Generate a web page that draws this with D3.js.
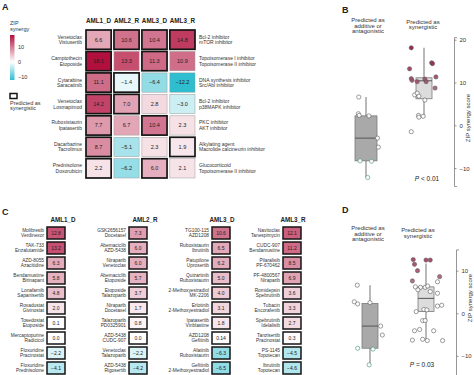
<!DOCTYPE html>
<html>
<head>
<meta charset="utf-8">
<script src="https://cdn.jsdelivr.net/npm/d3@7"></script>
<style>
  body { margin: 0; background: #fff; }
  svg { display: block; font-family: "Liberation Sans", Arial, sans-serif; }
</style>
</head>
<body>
<div id="chart"></div>
<script>
// ---- Panel A data ----
const colsA = ["AML1_D", "AML2_R", "AML3_D", "AML3_R"];
const rowsA = [
    ["Venetoclax", "Vistusertib"],
    ["Camptothecin", "Etoposide"],
    ["Cytarabine", "Saracatinib"],
    ["Venetoclax", "Losmapimod"],
    ["Ruboxistaurin", "Ipatasertib"],
    ["Dacarbazine", "Tacrolimus"],
    ["Prednisolone", "Doxorubicin"]
];
const mechA = [
    ["Bcl-2 inhibitor", "mTOR inhibitor"],
    ["Topoisomerase I inhibitor", "Topoisomerase II inhibitor"],
    ["DNA synthesis inhibitor", "Src/Abl inhibitor"],
    ["Bcl-2 inhibitor", "p38MAPK inhibitor"],
    ["PKC inhibitor", "AKT inhibitor"],
    ["Alkylating agent", "Macrolide calcineurin inhibitor"],
    ["Glucocorticoid", "Topoisomerase II inhibitor"]
];
const valuesA = [
    [6.6, 10.6, 10.4, 14.8],
    [18.1, 13.3, 11.3, 10.9],
    [11.1, -1.4, -6.4, -12.2],
    [14.2, 7.0, 2.8, -3.0],
    [7.7, 6.7, 10.4, 2.3],
    [8.7, -5.1, 2.3, 1.9],
    [2.2, -6.2, 6.0, 2.1]
];
const synA = [
    [1, 1, 1, 1],
    [1, 0, 1, 0],
    [1, 1, 0, 0],
    [1, 1, 0, 0],
    [1, 0, 1, 0],
    [1, 0, 0, 1],
    [1, 0, 1, 0]
];
const colorTicks = [10, 0, -10];

// ---- Panel C data ----
const colsC = ["AML1_D", "AML2_R", "AML3_D", "AML3_R"];
const pairsC = [
    [["Molibresib", "Verdinexor"], ["TAK-733", "Enzalutamide"], ["AZD-8055", "Azacitidine"],
     ["Bendamustine", "Birinapant"], ["Lonafarnib", "Sapanisertib"], ["Roxadustat", "Givinostat"],
     ["Tosedostat", "Etoposide"], ["Mercaptopurine", "Radicicol"], ["Floxuridine", "Pracinostat"],
     ["Floxuridine", "Prednisolone"]],
    [["GSK2656157", "Docetaxel"], ["Abemaciclib", "AZD-5438"], ["Niraparib", "Venetoclax"],
     ["Abemaciclib", "Etoposide"], ["Etoposide", "Talazoparib"], ["Niraparib", "Docetaxel"],
     ["Talazoparib", "PD0325901"], ["AZD-5438", "CUDC-907"], ["Venetoclax", "Talazoparib"],
     ["AZD-5438", "Rigosertib"]],
    [["TG100-115", "AZD1208"], ["Ruboxistaurin", "Ibrutinib"], ["Patupilone", "Uprosertib"],
     ["Quizartinib", "Ruboxistaurin"], ["2-Methoxyestradiol", "MK-2206"], ["Erlotinib", "2-Methoxyestradiol"],
     ["Ipatasertib", "Vinblastine"], ["AZD1208", "Gefitinib"], ["Afatinib", "Ruboxistaurin"],
     ["Gefitinib", "2-Methoxyestradiol"]],
    [["Navitoclax", "Tanespimycin"], ["CUDC-907", "Bendamustine"], ["Pilaralisib", "PF-670462"],
     ["PF-4800567", "Niraparib"], ["Romidepsin", "Spebrutinib"], ["Tubacin", "Encorafenib"],
     ["Spebrutinib", "Idelalisib"], ["Tanzisertib", "Pracinostat"], ["PS-1145", "Topotecan"],
     ["Ibrutinib", "Topotecan"]]
];
const valuesC = [
    [12.8, 13.2, 6.3, 5.8, 4.8, 2.0, 0.1, 0.0, -2.2, -4.1],
    [7.3, 6.0, 6.0, 5.7, 3.7, 1.7, 0.8, 0.0, -2.2, -4.2],
    [10.6, 6.5, 6.2, 5.0, 4.0, 3.1, 1.8, 0.14, -6.3, -6.5],
    [12.1, 11.2, 8.5, 6.9, 3.6, 3.3, 2.7, 0.3, -4.5, -4.6]
];

// ---- Panels B and D data (ZIP scores, jitter) ----
const groups = ["Predicted as additive or antagonistic", "Predicted as synergistic"];
const bAdd = [6.6, 2.7, 2.3, 2.2, -3.0, -5.1, -8.3, -8.4, -12.2];
const bAddJit = [-0.85, -0.9, -0.8, 0.35, 1.35, 1.45, -0.7, 0.65, 0.2];
const bSyn = [18.1, 14.6, 14.4, 13.2, 10.9, 10.5, 10.8, 10.2, 10.2, 11.3, 8.7, 7.1, 7.5, 6.8, 5.9, 2.3, 2.1, 1.9, -1.5];
const bSynJit = [-1.5, 0.9, 1.0, -1.7, -1.5, -1.4, 0.1, -0.8, 0.25, 1.4, 1.3, -1.1, -0.8, -0.6, 0.1, -0.65, -0.1, -0.6, -1.5];
const bBoxes = [[-12.2, -8.3, -3.0, 2.2, 6.6], [1.9, 6.2, 10.4, 11.1, 18.1]];
const bTicks = [20, 10, 0, -10];

const dAdd = [6.6, 2.7, 2.2, 2.5, -3.0, -5.1, -8.2, -8.4, -12.1];
const dAddJit = [-1.5, -1.85, -1.45, 0, 1.25, 1.45, -1.45, 0.35, -0.1];
const dSyn = [12.6, 12.5, 12.5, 11.5, 10.0, 8.6, 7.6, 7.4, 6.2, 6.1, 6.1, 6.4, 5.5, 5.1, 4.7, 1.9, 1.7,
              0.9, 0.8, 0.4, -1.7, -1.7, -3.8, -4.1, -4.1, -6.3, -6.1, -6.4, -6.4];
const dSynJit = [-1.5, 0, 0.5, -1.35, -1.0, 1.6, -1.6, 1.35, -1.25, -0.65, -0.1, 0.2, -0.95, 0.5, 1.35, 1.85, 1.35,
                 -0.25, 0.1, -1.15, -0.4, -0.1, -0.75, -1.35, 0.9, -1.6, -0.4, 0.15, 1.95];
const dBoxes = [[-12.1, -8.2, -3.0, 2.3, 6.6], [-6.2, 0.4, 3.5, 6.2, 11.7]];
const dTicks = [10, 0, -10];

// ---- drawing ----
const width = 474, height = 375;
const svg = d3.select("#chart").append("svg")
    .attr("width", width)
    .attr("height", height);

const color = d3.scaleLinear()
    .domain([-12.2, 0, 18.1])
    .range(["#2fbdd0", "#ffffff", "#b10f3d"])
    .clamp(true);

const fmt = v => (Math.abs(v) < 1 && String(v).length > 3 ? String(v) : v.toFixed(1)).replace("-", "\u2212");

function panelLetter(x, y, t) {
    svg.append("text").attr("x", x).attr("y", y)
        .style("font-size", "9px").style("font-weight", "bold").style("fill", "#222")
        .text(t);
}

function twoLines(g, x, y, lines, anchor, size, gap) {
    const t = g.append("text")
        .attr("x", x).attr("y", y)
        .attr("text-anchor", anchor)
        .style("font-size", size + "px")
        .style("fill", "#333");
    lines.forEach((l, i) => {
        t.append("tspan").attr("x", x)
            .attr("y", y + (i - (lines.length - 1) / 2) * gap)
            .attr("dy", "0.35em")
            .text(l);
    });
}

// Panel A
panelLetter(2, 10, "A");

const xA = d3.scaleBand().domain(colsA).range([86, 195]).paddingInner(0.1);
const yA = d3.scaleBand().domain(d3.range(rowsA.length)).range([30, 178]).paddingInner(0.1);

const gA = svg.append("g");
gA.selectAll("text.colhead")
    .data(colsA)
    .join("text")
    .attr("class", "colhead")
    .attr("x", d => xA(d) + xA.bandwidth() / 2)
    .attr("y", 23)
    .attr("text-anchor", "middle")
    .style("font-size", "6.3px")
    .style("font-weight", "bold")
    .style("fill", "#222")
    .text(d => d);

const cellsA = [];
valuesA.forEach((row, i) => row.forEach((v, j) => cellsA.push({ i, j, v, syn: synA[i][j] })));

gA.selectAll("rect.cell")
    .data(cellsA)
    .join("rect")
    .attr("x", d => xA(colsA[d.j]))
    .attr("y", d => yA(d.i))
    .attr("width", xA.bandwidth())
    .attr("height", yA.bandwidth())
    .attr("fill", d => color(d.v))
    .attr("stroke", d => d.syn ? "#151515" : "#9a9a9a")
    .attr("stroke-width", d => d.syn ? 1.7 : 0.5);

gA.selectAll("text.val")
    .data(cellsA)
    .join("text")
    .attr("class", "val")
    .attr("x", d => xA(colsA[d.j]) + xA.bandwidth() / 2)
    .attr("y", d => yA(d.i) + yA.bandwidth() / 2)
    .attr("dy", "0.35em")
    .attr("text-anchor", "middle")
    .style("font-size", "5.5px")
    .style("fill", "#222")
    .text(d => fmt(d.v));

rowsA.forEach((r, i) => {
    twoLines(gA, 82, yA(i) + yA.bandwidth() / 2, r, "end", 5, 5.5);
    twoLines(gA, 199, yA(i) + yA.bandwidth() / 2, mechA[i], "start", 5, 5.5);
});

// colour legend
const cb = svg.append("g");
twoLines(cb, 10, 26, ["ZIP", "synergy"], "start", 5.5, 5.5);
const yCb = d3.scaleLinear().domain([-12.2, 18.1]).range([80, 35]);
const grad = svg.append("defs").append("linearGradient")
    .attr("id", "zipgrad").attr("x1", 0).attr("x2", 0).attr("y1", 1).attr("y2", 0);
d3.range(0, 1.001, 0.1).forEach(t => {
    const v = -12.2 + t * 30.3;
    grad.append("stop").attr("offset", t).attr("stop-color", color(v));
});
cb.append("rect")
    .attr("x", 10).attr("y", yCb(18.1))
    .attr("width", 4.5).attr("height", yCb(-12.2) - yCb(18.1))
    .attr("fill", "url(#zipgrad)");
cb.selectAll("text.tk")
    .data(colorTicks)
    .join("text")
    .attr("x", 18).attr("y", d => yCb(d)).attr("dy", "0.35em")
    .style("font-size", "5.5px").style("fill", "#333")
    .text(d => String(d).replace("-", "\u2212"));
cb.append("rect")
    .attr("x", 10).attr("y", 93.5).attr("width", 7).attr("height", 5)
    .attr("fill", "#fff").attr("stroke", "#151515").attr("stroke-width", 1.5);
twoLines(cb, 10, 105.5, ["Predicted as", "synergistic"], "start", 5.5, 5.5);

// Panel C
panelLetter(2, 215, "C");
const xC = d3.scaleOrdinal().domain(colsC).range([47, 129, 212, 283]);
const cw = 18;
const yC = d3.scaleBand().domain(d3.range(10)).range([227, 374]).paddingInner(0.2);
const gC = svg.append("g");

colsC.forEach((c, j) => {
    gC.append("text")
        .attr("x", xC(c) + cw / 2 + (j < 2 ? 7 : 1))
        .attr("y", 222)
        .attr("text-anchor", "middle")
        .style("font-size", "6.3px").style("font-weight", "bold").style("fill", "#222")
        .text(c);
    const cells = valuesC[j].map((v, i) => ({ v, i }));
    gC.selectAll("rect.c" + j)
        .data(cells)
        .join("rect")
        .attr("x", xC(c))
        .attr("y", d => yC(d.i))
        .attr("width", cw)
        .attr("height", yC.bandwidth())
        .attr("fill", d => color(d.v))
        .attr("stroke", "#151515")
        .attr("stroke-width", 1.5);
    gC.selectAll("text.v" + j)
        .data(cells)
        .join("text")
        .attr("x", xC(c) + cw / 2)
        .attr("y", d => yC(d.i) + yC.bandwidth() / 2)
        .attr("dy", "0.35em")
        .attr("text-anchor", "middle")
        .style("font-size", "5px").style("fill", "#222")
        .text(d => fmt(d.v));
    pairsC[j].forEach((p, i) => {
        twoLines(gC, xC(c) - 3, yC(i) + yC.bandwidth() / 2, p, "end", 4.8, 5.2);
    });
});

// Panels B and D
function pointFill(v) {
    if (v > 7.5) return d3.interpolateRgb(color(v), "#5e0f2c")(0.4);
    return "#ffffff";
}

function boxPanel(opts) {
    const g = svg.append("g");
    const y = d3.scaleLinear().domain([0, 10]).range([opts.y0, opts.y10]);
    const x = d3.scaleOrdinal().domain(groups).range(opts.centers);
    const jit = d3.scaleLinear().domain([-1, 1]).range([-8.5, 8.5]);

    panelLetter(342, opts.letterY, opts.letter);

    // headers
    twoLines(g, opts.headX[0], opts.headY[0], ["Predicted as", "additive or", "antagonistic"], "middle", 6, 5.5);
    twoLines(g, opts.headX[1], opts.headY[1], ["Predicted as", "synergistic"], "middle", 6, 5.5);

    groups.forEach((grp, k) => {
        const [lo, q1, med, q3, hi] = opts.boxes[k];
        const cx = x(grp), w = opts.widths[k];
        g.append("line")
            .attr("x1", cx).attr("x2", cx).attr("y1", y(hi)).attr("y2", y(lo))
            .attr("stroke", "#8a8a8a").attr("stroke-width", 1.2);
        g.append("rect")
            .attr("x", cx - w / 2).attr("y", y(q3))
            .attr("width", w).attr("height", y(q1) - y(q3))
            .attr("fill", k === 0 ? "#a9a9a9" : "#dcdcdc")
            .attr("stroke", "#7a7a7a").attr("stroke-width", 0.8);
        g.append("line")
            .attr("x1", cx - w / 2).attr("x2", cx + w / 2).attr("y1", y(med)).attr("y2", y(med))
            .attr("stroke", "#555").attr("stroke-width", 1);

        const pts = opts.points[k].map((v, i) => ({ v, j: opts.jitter[k][i] }));
        g.selectAll("circle.p" + k)
            .data(pts)
            .join("circle")
            .attr("cx", d => cx + jit(d.j))
            .attr("cy", d => y(d.v))
            .attr("r", 2.1)
            .attr("fill", d => pointFill(d.v))
            .attr("fill-opacity", 0.9)
            .attr("stroke", d => d.v < -7 ? "#3a8f7e" : "#5a5a5a")
            .attr("stroke-width", 0.6);
    });

    // right axis
    const axis = d3.axisRight(y.copy().domain(opts.domain).range([y(opts.domain[0]), y(opts.domain[1])]))
        .tickValues(opts.ticks)
        .tickSize(2.5)
        .tickSizeOuter(3)
        .tickFormat(d => String(d).replace("-", "\u2212"));
    const ga = g.append("g").attr("transform", `translate(${opts.axisX},0)`).call(axis);
    ga.selectAll("path, line").attr("stroke", "#8a8a8a").attr("stroke-width", 0.9);
    ga.selectAll("text").style("font-size", "6px").style("fill", "#333")
        .style("font-family", '"Liberation Sans", Arial, sans-serif');

    g.append("text")
        .attr("transform", `translate(${opts.axisX + 14},${opts.labelY}) rotate(-90)`)
        .attr("text-anchor", "middle")
        .attr("dy", "0.35em")
        .style("font-size", "6px").style("fill", "#333")
        .text("ZIP synergy score");

    const pt = g.append("text")
        .attr("x", opts.pX).attr("y", opts.pY)
        .attr("text-anchor", "middle")
        .style("font-size", "6.5px").style("fill", "#222");
    pt.append("tspan").style("font-style", "italic").text("P");
    pt.append("tspan").text(opts.pText);
}

boxPanel({
    letter: "B", letterY: 13,
    y0: 125.3, y10: 82.5,
    centers: [366, 424], widths: [22, 16],
    headX: [368, 423], headY: [25.5, 24.5],
    boxes: bBoxes, points: [bAdd, bSyn], jitter: [bAddJit, bSynJit],
    domain: [-14.2, 20.6], ticks: bTicks, axisX: 454, labelY: 118,
    pX: 427, pY: 181, pText: " < 0.01"
});

boxPanel({
    letter: "D", letterY: 213,
    y0: 313.3, y10: 270.7,
    centers: [370, 426], widths: [16, 16],
    headX: [368, 418], headY: [233.5, 233],
    boxes: dBoxes, points: [dAdd, dSyn], jitter: [dAddJit, dSynJit],
    domain: [-14.5, 15], ticks: dTicks, axisX: 456, labelY: 298,
    pX: 422, pY: 367, pText: " = 0.03"
});
</script>
</body>
</html>
